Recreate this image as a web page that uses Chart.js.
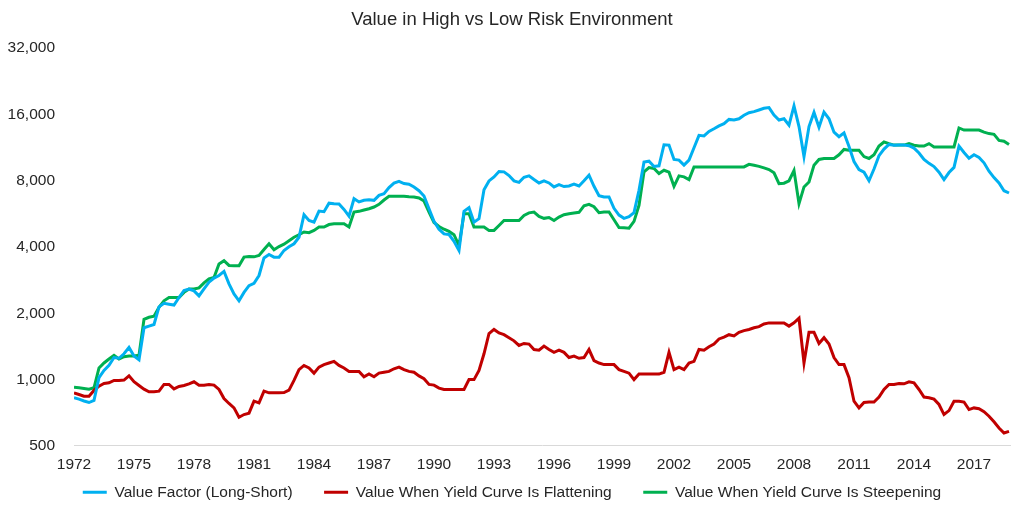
<!DOCTYPE html>
<html>
<head>
<meta charset="utf-8">
<title>Value in High vs Low Risk Environment</title>
<script src="https://cdn.jsdelivr.net/npm/chart.js@4.4.1/dist/chart.umd.min.js"></script>
<style>
  html, body { margin: 0; padding: 0; background: #fff; }
</style>
</head>
<body>
<canvas id="riskChart" width="1024" height="511"></canvas>
<script>
// quarterly readings, first point is Q1 1972
const startYear = 1972;
const stepYears = 0.25;

const yearTicks = [1972, 1975, 1978, 1981, 1984, 1987, 1990, 1993, 1996, 1999, 2002, 2005, 2008, 2011, 2014, 2017];
const valueTicks = [500, 1000, 2000, 4000, 8000, 16000, 32000];

const valueFactor = [
  827, 815, 800, 787, 805, 1020, 1100, 1160, 1260, 1250, 1310, 1400, 1280, 1230, 1720, 1750,
  1780, 2140, 2220, 2200, 2180, 2360, 2540, 2580, 2530, 2400, 2580, 2770, 2890, 2970, 3100, 2720,
  2450, 2280, 2490, 2670, 2740, 2970, 3570, 3700, 3600, 3600, 3860, 4010, 4140, 4430, 5610,
  5280, 5190, 5830, 5790, 6330, 6290, 6270, 5930, 5530, 6630, 6410, 6520, 6560, 6520, 6870, 6990,
  7450, 7800, 7950, 7770, 7720, 7500, 7210, 6820, 5970, 5240, 4820, 4590, 4560, 4250, 3860, 5810,
  6040, 5190, 5380, 7290, 7990, 8330, 8810, 8780, 8450, 7990, 7870, 8300, 8420, 8100, 7820,
  8000, 7820, 7500, 7680, 7530, 7580, 7720, 7580, 8000, 8480, 7550, 6850, 6750, 6750, 6000, 5590,
  5400, 5490, 5730, 7240, 9720, 9820, 9290, 9350, 11660, 11620, 10000, 9930, 9420, 9930, 11300, 12860,
  12780, 13400, 13780, 14200, 14530, 15200, 15100, 15300, 15870, 16300, 16480, 16770,
  17070, 17200, 15900, 15100, 15300, 14300, 17500, 14100, 10300, 14100, 16350, 14000, 16400, 15300, 13300, 12680,
  13200, 11450, 9780, 9000, 8750, 8000, 9050, 10400, 11140, 11700, 11600, 11620, 11620, 11550, 11260, 10700,
  10000, 9600, 9280, 8750, 8100, 8720, 9200, 11500, 10750, 10130, 10500, 10200, 9650, 8840, 8270, 7820,
  7210, 7040
];

const flattening = [
  871, 856, 841, 841, 893, 934, 960, 967, 992, 992, 995, 1040, 978, 940, 905, 880,
  880, 886, 951, 951, 908, 931, 940, 957, 978, 944, 944, 951, 944, 902, 820, 779,
  744, 675, 694, 704, 798, 784, 886, 871, 871, 871, 874, 896, 992, 1110, 1160,
  1130, 1070, 1140, 1170, 1190, 1210, 1160, 1130, 1090, 1090, 1090, 1030, 1060, 1030, 1070, 1080,
  1090, 1120, 1140, 1110, 1090, 1080, 1040, 1010, 951, 944, 915, 902, 902, 902, 902, 902,
  1000, 1000, 1100, 1310, 1620, 1690, 1630, 1600, 1550, 1500, 1430, 1460, 1450, 1370, 1360,
  1420, 1370, 1330, 1360, 1330, 1260, 1280, 1250, 1260, 1370, 1220, 1190, 1170, 1170, 1170, 1110,
  1090, 1070, 1000, 1060, 1060, 1060, 1060, 1060, 1080, 1330, 1110, 1140, 1110, 1190, 1210, 1370,
  1360, 1410, 1450, 1530, 1560, 1600, 1580, 1640, 1670, 1690, 1720, 1740,
  1790, 1810, 1810, 1810, 1810, 1750, 1810, 1900, 1190, 1640, 1640, 1460, 1550, 1450, 1260, 1170,
  1170, 1020, 798, 744, 787, 791, 791, 833, 902, 951, 951, 960, 957, 978, 967, 902,
  833, 827, 815, 771, 694, 723, 798, 798, 791, 731, 744, 738, 715, 682, 643, 603,
  572, 582
];

const steepening = [
  924, 918, 912, 905, 918, 1130, 1190, 1240, 1290, 1240, 1270, 1280, 1280, 1290, 1880, 1920,
  1940, 2130, 2280, 2360, 2360, 2360, 2490, 2580, 2580, 2610, 2750, 2870, 2910, 3350, 3470, 3300,
  3290, 3290, 3600, 3620, 3610, 3660, 3900, 4140, 3890, 4020, 4120, 4270, 4430, 4550, 4680,
  4650, 4760, 4930, 4930, 5060, 5100, 5100, 5100, 4930, 5770, 5810, 5890, 5970, 6080, 6250, 6540,
  6800, 6800, 6800, 6800, 6770, 6750, 6680, 6470, 5770, 5170, 4960, 4820, 4710, 4550, 4060, 5670,
  5670, 4930, 4930, 4930, 4760, 4760, 5010, 5280, 5280, 5280, 5280, 5570, 5720, 5770, 5510,
  5400, 5450, 5280, 5470, 5610, 5670, 5710, 5750, 6150, 6250, 6100, 5730, 5770, 5770, 5320, 4910,
  4890, 4870, 5230, 6190, 8780, 9190, 9100, 8630, 8930, 8750, 7550, 8420, 8330, 8100, 9250, 9250,
  9250, 9250, 9250, 9250, 9250, 9250, 9250, 9250, 9250, 9500, 9400, 9300,
  9150, 9000, 8700, 7770, 7800, 8000, 8900, 6300, 7500, 7900, 9420, 10000, 10100, 10100, 10100, 10500,
  11100, 11000, 11000, 11000, 10300, 10100, 10500, 11500, 12000, 11800, 11620, 11620, 11620, 11800, 11600, 11500,
  11500, 11800, 11400, 11400, 11400, 11400, 11400, 13900, 13600, 13600, 13600, 13600, 13300, 13100, 13000, 12200,
  12100, 11700
];

const toPoints = (vals) => vals.map((v, i) => ({ x: startYear + i * stepYears, y: v }));

const font = { family: "'Liberation Sans', Arial, sans-serif", size: 15.5 };
const textColor = '#262626';

// legend items sit further apart than Chart.js' padding allows, so pad the text on the right
const legendGap = '     ';

const ctx = document.getElementById('riskChart');
new Chart(ctx, {
  type: 'line',
  data: {
    datasets: [
      {
        label: 'Value Factor (Long-Short)',
        data: toPoints(valueFactor),
        borderColor: '#00B0F0',
        backgroundColor: '#00B0F0',
        borderWidth: 3,
      },
      {
        label: 'Value When Yield Curve Is Flattening',
        data: toPoints(flattening),
        borderColor: '#C00000',
        backgroundColor: '#C00000',
        borderWidth: 3,
      },
      {
        label: 'Value When Yield Curve Is Steepening',
        data: toPoints(steepening),
        borderColor: '#00B050',
        backgroundColor: '#00B050',
        borderWidth: 3,
      },
    ],
  },
  options: {
    responsive: false,
    animation: false,
    elements: { point: { radius: 0 }, line: { tension: 0 } },
    layout: { padding: { left: 0, right: 0, top: 0, bottom: 1 } },
    plugins: {
      title: {
        display: true,
        text: 'Value in High vs Low Risk Environment',
        color: textColor,
        font: { family: font.family, size: 18.5, weight: 'normal' },
        padding: { top: 9, bottom: 17 },
      },
      legend: {
        position: 'bottom',
        labels: {
          color: textColor,
          font: font,
          usePointStyle: true,
          pointStyle: 'line',
          pointStyleWidth: 24,
          padding: 10,
          generateLabels: (chart) => {
            const items = Chart.defaults.plugins.legend.labels.generateLabels(chart);
            items.forEach((item, i) => {
              if (i < items.length - 1) item.text += legendGap;
            });
            return items;
          },
        },
      },
      tooltip: { enabled: false },
    },
    scales: {
      x: {
        type: 'linear',
        min: 1972,
        max: 2018.8,
        afterBuildTicks: (axis) => { axis.ticks = yearTicks.map((v) => ({ value: v })); },
        afterFit: (axis) => { axis.height -= 10; },
        ticks: {
          color: textColor,
          font: font,
          padding: 10,
          maxRotation: 0,
          autoSkip: false,
          callback: (v) => String(v),
        },
        grid: { display: false, drawTicks: false },
        border: { display: true, color: '#D9D9D9', width: 1 },
      },
      y: {
        type: 'logarithmic',
        min: 500,
        max: 32000,
        afterBuildTicks: (axis) => { axis.ticks = valueTicks.map((v) => ({ value: v })); },
        afterFit: (axis) => { axis.width = 74; },
        ticks: {
          color: textColor,
          font: font,
          padding: 19,
          callback: (v) => v.toLocaleString('en-US'),
        },
        grid: { display: false, drawTicks: false },
        border: { display: false },
      },
      // empty right-hand margin so the title and legend stay centred on the full width
      yRight: {
        type: 'linear',
        position: 'right',
        afterFit: (axis) => { axis.width = 14; },
        ticks: { display: false },
        grid: { display: false, drawTicks: false },
        border: { display: false },
      },
    },
  },
});
</script>
</body>
</html>
